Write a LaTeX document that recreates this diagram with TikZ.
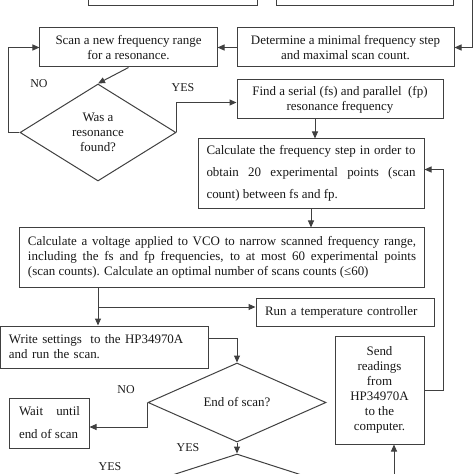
\documentclass[tikz,border=0pt]{standalone}
\usepackage{fontspec}
\setmainfont{Liberation Serif}
\usetikzlibrary{shapes.geometric,arrows.meta}
\begin{document}
\begin{tikzpicture}[x=1bp,y=-1bp,
  every node/.style={text=black!90},
  box/.style={draw=black!75, line width=1bp, fill=white, rectangle, inner sep=0pt, font=\fontsize{13}{15}\selectfont, align=center},
  dia/.style={draw=black!75, line width=1bp, fill=white, diamond, aspect=1.6, inner sep=0pt, font=\fontsize{13}{15}\selectfont, align=center},
  arr/.style={draw=black!75, line width=1bp, -{Triangle[length=7bp,width=6bp]}},
  lbl/.style={font=\fontsize{12}{14}\selectfont, inner sep=0pt}
]
\useasboundingbox (0,0) rectangle (474,474);
\clip (0,0) rectangle (474,474);

\node[box, minimum width=169bp, minimum height=40bp] (topA) at (172.5,-14) {};
\node[box, minimum width=177bp, minimum height=40bp] (topB) at (364.5,-14) {};

\node[box, minimum width=177bp, minimum height=39bp] (scan) at (128.5,47.5) {Scan a new frequency range\\for a resonance.};
\node[box, minimum width=217bp, minimum height=39bp] (det) at (345.5,47.5) {Determine a minimal frequency step\\and maximal scan count.};
\node[dia, minimum width=156bp, minimum height=97bp] (was) at (98,132.5) {Was a\\resonance\\found?};
\node[box, minimum width=206bp, minimum height=39bp] (find) at (340,99.5) {Find a serial (fs) and parallel~~(fp)\\resonance frequency};
\node[box, text width=209bp, inner xsep=8.5bp, minimum height=69bp, align=justify, font=\fontsize{13}{22}\selectfont] (calc) at (311,173.5) {Calculate the frequency step in order to\linebreak obtain 20 experimental points (scan\linebreak count) between fs and fp.};
\node[box, text width=388bp, inner xsep=8bp, minimum height=59bp, align=justify] (vco) at (222,257.5) {Calculate a voltage applied to VCO to narrow scanned frequency range,\linebreak including the fs and fp frequencies, to at most 60 experimental points\linebreak (scan counts). Calculate an optimal number of scans counts (≤60)};
\node[box, text width=160bp, inner xsep=9bp, minimum height=28bp, align=left] (run) at (345,312) {Run a temperature controller};
\node[box, text width=191bp, inner xsep=8bp, minimum height=42bp, align=left] (write) at (104.5,347) {Write settings~ to the HP34970A\\and run the scan.};
\node[dia, minimum width=178bp, minimum height=79bp] (endscan) at (237,402.5) {End of scan?};
\node[box, text width=61bp, inner xsep=9bp, minimum height=50bp, align=justify, font=\fontsize{13}{23}\selectfont] (wait) at (49.5,423) {Wait until\linebreak end of scan};
\node[box, minimum width=89bp, minimum height=108bp] (send) at (379.5,390) {Send\\readings\\from\\HP34970A\\to the\\computer.};
\node[dia, minimum width=248bp, minimum height=80bp] (next) at (237,494) {};

\node[lbl] (no1) at (39,84) {NO};
\node[lbl] (yes1) at (183,88) {YES};
\node[lbl] (no2) at (126,390) {NO};
\node[lbl] (yes2) at (188,448) {YES};
\node[lbl] (yes3) at (110,467) {YES};

\coordinate (topin) at (472.5,-5);
\coordinate (sendin) at (394,480);

\draw[arr] (topin) |- (det.east);
\draw[arr] (det.west) -- (scan.east);
\draw[arr] (scan.south) -- (was.north);
\draw[arr] (was.west) -- ++(-11,0) |- (scan.west);
\draw[arr] (was.east) |- ([yshift=-3bp]find.west);
\coordinate (fo) at ([xshift=-25bp]find.south);
\draw[arr] (fo) -- (fo |- calc.north);
\draw[arr] (calc.south) -- (calc.south |- vco.north);
\coordinate (vo) at (was.south |- vco.south);
\draw[arr] (vo) -- (vo |- write.north);
\coordinate (rb) at ([yshift=5bp]run.west);
\draw[arr] (vo |- rb) -- (rb);
\coordinate (wo) at ([yshift=9bp]write.east);
\draw[arr] (wo) -| (endscan.north);
\draw[arr] (endscan.west) |- ([yshift=-4bp]wait.east);
\draw[arr] (endscan.south) -- (next.north);
\draw[arr] (send.east) -- ++(19,0) |- ([yshift=4bp]calc.east);
\draw[arr] (sendin) -- (sendin |- send.south);
\end{tikzpicture}
\end{document}
